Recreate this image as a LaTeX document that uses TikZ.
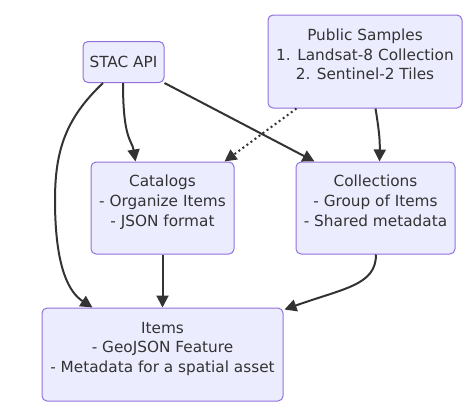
\documentclass[tikz,border=0pt]{standalone}
\usepackage{fontspec}
\setmainfont{DejaVu Sans}
\usetikzlibrary{arrows.meta,calc}
\definecolor{boxfill}{HTML}{ECECFF}
\definecolor{boxdraw}{HTML}{9370DB}
\definecolor{ink}{HTML}{333333}
\begin{document}
\begin{tikzpicture}[x=1pt,y=-1pt,
  box/.style={draw=boxdraw, fill=boxfill, line width=1pt, rounded corners=5pt,
    align=center, text=ink, inner sep=0pt,
    font=\fontsize{15.3}{19.7}\selectfont},
  conn/.style={draw=ink, line width=2pt,
    -{Triangle[length=12pt,width=12pt]}},
  dotconn/.style={conn, dash pattern=on 2pt off 3pt}]
\useasboundingbox (0,0) rectangle (474,416);
\node[box, minimum width=81pt, minimum height=41pt] (stac) at (123.5,62) {STAC API};
\node[box, minimum width=194pt, minimum height=93pt] (pub) at (365,61.5)
  {Public Samples\\1. Landsat-8 Collection\\2. Sentinel-2 Tiles\\[-11pt]\strut};
\node[box, minimum width=143pt, minimum height=92pt] (cat) at (162.5,208)
  {Catalogs\\- Organize Items\\- JSON format\\[-11pt]\strut};
\node[box, minimum width=159pt, minimum height=92pt] (col) at (375.5,208)
  {Collections\\- Group of Items\\- Shared metadata\\[-11pt]\strut};
\node[box, minimum width=241pt, minimum height=93pt] (items) at (162.5,354.5)
  {Items\\- GeoJSON Feature\\- Metadata for a spatial asset\\[-11pt]\strut};

\draw[conn] ($(stac.south)+(-20.5,0)$) .. controls (66,118) and (55,150) .. (55,200)
  .. controls (55,270) and (70,293) .. ($(items.north west)+(51,0)$);
\draw[conn] ($(stac.south)+(-0.5,0)$) .. controls (123,140) and (132,140) .. ($(cat.north west)+(45,0)$);
\draw[conn] (stac.south east) -- ($(col.north west)+(19,0)$);
\draw[dotconn] ($(pub.south west)+(29,0)$) -- ($(cat.north east)+(-10,0)$);
\draw[conn] ($(pub.south west)+(108,0)$) .. controls (379,130) and (380,140) .. ($(col.north west)+(84,0)$);
\draw[conn] (cat.south) -- (items.north);
\draw[conn] ($(col.south)+(0.5,0)$) .. controls (376,285) and (345,288) .. ($(items.north east)+(1,2)$);
\end{tikzpicture}
\end{document}
